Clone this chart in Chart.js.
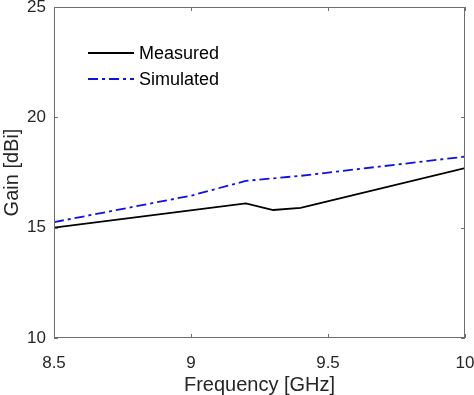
<!DOCTYPE html>
<html>
<head>
<meta charset="utf-8">
<script src="https://cdn.jsdelivr.net/npm/chart.js@4"></script>
<style>
  html, body { margin: 0; padding: 0; background: #fff; }
  #wrap { width: 474px; height: 395px; }
</style>
</head>
<body>
<div id="wrap"><canvas id="myChart"></canvas></div>
<script>
// data
const measuredFreq = [8.5, 9.2, 9.3, 9.4, 10];
const measuredGain = [15.0, 16.1, 15.8, 15.9, 17.7];
const simulatedFreq = [8.5, 9.0, 9.2, 9.4, 10];
const simulatedGain = [15.25, 16.45, 17.12, 17.35, 18.22];
const xTicks = [8.5, 9, 9.5, 10];
const xTickLabels = ['8.5', '9', '9.5', '10'];
const yTicks = [10, 15, 20, 25];
const yTickLabels = ['10', '15', '20', '25'];
const seriesNames = ['Measured', 'Simulated'];

const toPoints = (xs, ys) => xs.map((x, i) => ({ x: x, y: ys[i] }));

const FONT = 'Liberation Sans, Arial, sans-serif';
const frameColor = '#6e6e6e';

// box around the plot, inward ticks, legend inside the axes
const matlabAxes = {
  id: 'matlabAxes',
  afterDatasetsDraw(chart) {
    const { ctx, chartArea: a, scales } = chart;
    ctx.save();
    ctx.strokeStyle = frameColor;
    ctx.lineWidth = 1;
    ctx.strokeRect(a.left + 0.5, a.top + 0.5, a.right - a.left - 1, a.bottom - a.top - 1);
    const len = 4;
    ctx.beginPath();
    xTicks.forEach(v => {
      const px = Math.round(scales.x.getPixelForValue(v)) + 0.5;
      ctx.moveTo(px, a.bottom); ctx.lineTo(px, a.bottom - len);
      ctx.moveTo(px, a.top); ctx.lineTo(px, a.top + len);
    });
    yTicks.forEach(v => {
      const py = Math.round(scales.y.getPixelForValue(v)) + 0.5;
      ctx.moveTo(a.left, py); ctx.lineTo(a.left + len, py);
      ctx.moveTo(a.right, py); ctx.lineTo(a.right - len, py);
    });
    ctx.stroke();

    // legend
    ctx.font = '18px ' + FONT;
    ctx.textBaseline = 'middle';
    chart.data.datasets.forEach((ds, i) => {
      const y = 53 + i * 26;
      ctx.beginPath();
      ctx.strokeStyle = ds.borderColor;
      ctx.lineWidth = ds.borderWidth;
      ctx.setLineDash(ds.borderDash || []);
      ctx.moveTo(88, y); ctx.lineTo(134, y);
      ctx.stroke();
      ctx.setLineDash([]);
      ctx.fillStyle = '#000';
      ctx.fillText(ds.label, 139, y + 1);
    });
    ctx.restore();
  }
};

new Chart(document.getElementById('myChart'), {
  type: 'line',
  data: {
    datasets: [{
      label: seriesNames[0],
      data: toPoints(measuredFreq, measuredGain),
      borderColor: '#000000',
      borderWidth: 1.8,
      pointRadius: 0,
      tension: 0
    }, {
      label: seriesNames[1],
      data: toPoints(simulatedFreq, simulatedGain),
      borderColor: '#1010e0',
      borderWidth: 1.8,
      borderDash: [10, 4, 3, 4],
      pointRadius: 0,
      tension: 0
    }]
  },
  options: {
    responsive: true,
    maintainAspectRatio: false,
    animation: false,
    layout: { padding: { top: 7, right: 9, left: -4, bottom: 0 } },
    plugins: {
      legend: { display: false },
      tooltip: { enabled: false }
    },
    scales: {
      x: {
        type: 'linear',
        min: 8.5,
        max: 10,
        afterBuildTicks: (s) => { s.ticks = xTicks.map(v => ({ value: v })); },
        afterFit: (s) => { s.height = 57; s.paddingLeft = 0; s.paddingRight = 0; },
        grid: { display: false, drawTicks: false },
        border: { display: false },
        ticks: {
          color: '#262626', font: { family: FONT, size: 17 }, padding: 15, maxRotation: 0, autoSkip: false,
          callback: (v, i) => xTickLabels[i]
        },
        title: { display: true, text: 'Frequency [GHz]', color: '#262626', font: { family: FONT, size: 20 }, padding: { top: 0, bottom: -2 } }
      },
      y: {
        min: 10,
        max: 25,
        afterBuildTicks: (s) => { s.ticks = yTicks.map(v => ({ value: v })); },
        afterFit: (s) => { s.width = 58; s.paddingTop = 0; s.paddingBottom = 0; },
        grid: { display: false, drawTicks: false },
        border: { display: false },
        ticks: {
          color: '#262626', font: { family: FONT, size: 17 }, padding: 8, autoSkip: false,
          callback: (v, i) => yTickLabels[i]
        },
        title: { display: true, text: 'Gain [dBi]', color: '#262626', font: { family: FONT, size: 20 }, padding: { bottom: 0 } }
      }
    }
  },
  plugins: [matlabAxes]
});
</script>
</body>
</html>
